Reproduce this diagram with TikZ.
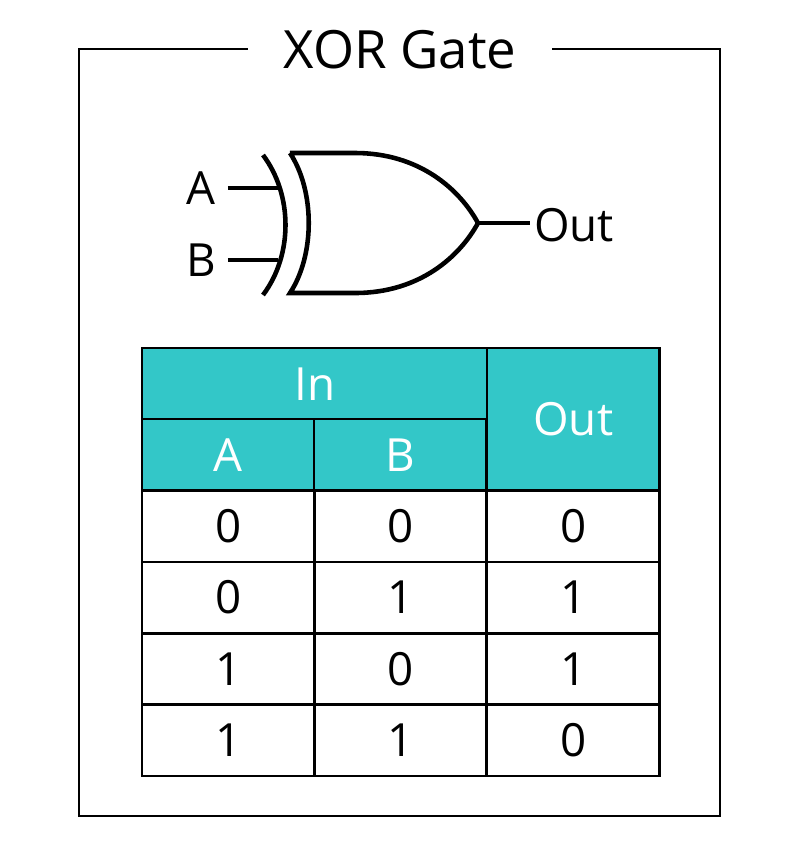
\documentclass[tikz,border=0pt]{standalone}
\usepackage{fontspec}
\setmainfont{Open Sans}
\definecolor{teal}{HTML}{33C7C8}
\tikzset{
  wire/.style={line width=1.3pt},
  cell/.style={draw=black, line width=0.7pt, minimum width=1.72cm, minimum height=0.715cm, inner sep=0pt, anchor=north west, font=\fontsize{13}{15}\selectfont},
  head/.style={cell, fill=teal, text=white},
  lbl/.style={font=\fontsize{13}{15}\selectfont, inner sep=1pt}
}
\begin{document}
\begin{tikzpicture}[x=0.01cm, y=-0.01cm]
  \useasboundingbox (0,0) rectangle (800,850);
  % frame and title
  \draw[line width=0.7pt] (248,49) -- (79,49) -- (79,816) -- (720,816) -- (720,49) -- (552,49);
  \node[font=\fontsize{15}{18}\selectfont] (title) at (400,50) {XOR Gate};

  % gate
  \draw[wire] (263,155) .. controls (293,195) and (293,255) .. (263,295);
  \draw[wire] (290,153) -- (355,153) .. controls (420,153) and (460,190) .. (478,223)
              .. controls (460,256) and (420,293) .. (355,293) -- (290,293)
              .. controls (315,255) and (315,191) .. (290,153);
  \coordinate (ina) at (278,187);
  \coordinate (inb) at (278,258);
  \coordinate (tip) at (478,223);
  \node[lbl, anchor=east] (a) at (220,188) {A};
  \node[lbl, anchor=east] (b) at (220,260) {B};
  \node[lbl, anchor=west] (out) at (530,225) {Out};
  \draw[wire] (a.east) ++(8,0) coordinate (a0) (a0) -- (ina |- a0);
  \draw[wire] (b.east) ++(8,0) coordinate (b0) (b0) -- (inb |- b0);
  \draw[wire] (tip) -- (out.west |- tip);

  % table
  \node[head, minimum width=3.45cm] (hin) at (141,347) {In};
  \node[head, minimum height=1.42cm] (hout) at (486,347) {Out};
  \node[head] (ha) at (141,418) {A};
  \node[head] (hb) at (313,418) {B};
  \foreach \a/\b/\o [count=\i] in {0/0/0, 0/1/1, 1/0/1, 1/1/0} {
    \node[cell] (ra\i) at (141,418+71.3*\i) {\a};
    \node[cell] (rb\i) at (313,418+71.3*\i) {\b};
    \node[cell] (ro\i) at (486,418+71.3*\i) {\o};
  }
\end{tikzpicture}
\end{document}
